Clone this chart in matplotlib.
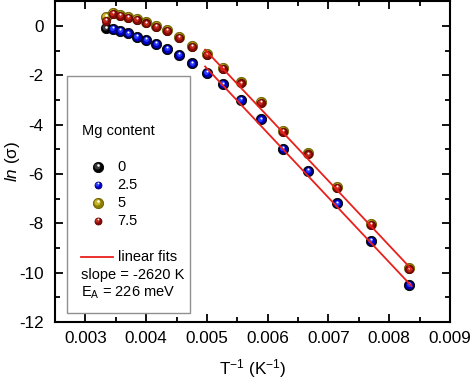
import matplotlib
matplotlib.use("Agg")
import matplotlib.pyplot as plt
import matplotlib.transforms as mtransforms
from matplotlib.patches import Rectangle
import numpy as np

plt.rcParams['font.family'] = ['Liberation Sans', 'DejaVu Sans']
plt.rcParams['mathtext.fontset'] = 'custom'
plt.rcParams['mathtext.rm'] = 'Liberation Sans'
plt.rcParams['mathtext.it'] = 'Liberation Sans:italic'
plt.rcParams['axes.unicode_minus'] = False

# ---- data ----
temps = [300, 290, 280, 270, 260, 250, 240, 230, 220, 210,
         200, 190, 180, 170, 160, 150, 140, 130, 120]
ln_sigma_0 = [-0.09, -0.12, -0.19, -0.30, -0.43, -0.57, -0.73, -0.93, -1.18, -1.51,
              -1.89, -2.36, -3.00, -3.78, -4.99, -5.87, -7.19, -8.72, -10.50]
ln_sigma_25 = [None, -0.12, -0.19, -0.30, -0.43, -0.57, -0.73, -0.93, -1.18, -1.51,
               -1.89, -2.36, -3.00, -3.78, -4.99, -5.87, -7.19, -8.72, -10.50]
ln_sigma_5 = [0.38, 0.53, 0.46, 0.38, 0.28, 0.15, 0.01, -0.16, -0.43, -0.80,
              -1.14, -1.70, -2.28, -3.07, -4.24, -5.16, -6.51, -8.03, -9.82]
ln_sigma_75 = [0.20, 0.49, 0.42, 0.34, 0.24, 0.11, -0.03, -0.20, -0.47, -0.84,
               -1.18, -1.74, -2.32, -3.11, -4.28, -5.20, -6.55, -8.07, -9.86]
fit_x = [0.00497, 0.00837]
fit_slope = -2620.0
fit_intercepts = [12.06, 11.38]
legend_labels = ['0', '2.5', '5', '7.5']
xtick_vals = [0.003, 0.004, 0.005, 0.006, 0.007, 0.008, 0.009]
xtick_labels = ['0.003', '0.004', '0.005', '0.006', '0.007', '0.008', '0.009']
ytick_vals = [0, -2, -4, -6, -8, -10, -12]
ytick_labels = ['0', '-2', '-4', '-6', '-8', '-10', '-12']

inv_t = [1.0 / t for t in temps]

fig = plt.figure(figsize=(4.74, 3.81), dpi=100)
ax = fig.add_axes([55/474, (381-322)/381, (450-55)/474, (322-1.3)/381])

# sphere-like markers
styles = {
    '0':   dict(base='#000000', edge='#000000', light='#3a3a3a', size=7.4),
    '2.5': dict(base='#0000c8', edge='#00005a', light='#2a3cff', size=5.9),
    '5':   dict(base='#8c7c00', edge='#6a5c00', light='#c8b42a', size=7.4),
    '7.5': dict(base='#8a0a0a', edge='#5a0000', light='#c42a1c', size=5.9),
}

def ball(x, y, st, transform=None, zorder=3):
    tr = ax.transData if transform is None else transform
    ax.plot(x, y, 'o', ls='none', ms=st['size'], mfc=st['base'], mec=st['edge'],
            mew=0.6, transform=tr, zorder=zorder, clip_on=False)
    off = mtransforms.ScaledTranslation(-0.4/72, 0.5/72, fig.dpi_scale_trans)
    ax.plot(x, y, 'o', ls='none', ms=st['size']*0.6, mfc=st['light'], mec='none',
            transform=tr + off, zorder=zorder + 0.1, clip_on=False)
    off2 = mtransforms.ScaledTranslation(0.0, 1.2/72, fig.dpi_scale_trans)
    ax.plot(x, y, 'o', ls='none', ms=st['size']*0.25, mfc='white', mec='none',
            transform=tr + off2, zorder=zorder + 0.2, clip_on=False)

def series(xs, ys):
    px = [a for a, b in zip(xs, ys) if b is not None]
    py = [b for b in ys if b is not None]
    return px, py

z = 3
for key, ys in zip(legend_labels, [ln_sigma_0, ln_sigma_25, ln_sigma_5, ln_sigma_75]):
    px, py = series(inv_t, ys)
    ball(px, py, styles[key], zorder=z)
    z += 1

# linear fits
for b in fit_intercepts:
    fy = [fit_slope * x + b for x in fit_x]
    ax.plot(fit_x, fy, color='#e8201c', lw=1.3, zorder=10)

ax.set_xlim(0.0025, 0.009)
ax.set_ylim(-12, 1)
ax.set_xticks(xtick_vals)
ax.set_xticklabels(xtick_labels)
ax.set_xticks(np.arange(0.0025, 0.00901, 0.0005), minor=True)
ax.set_yticks(ytick_vals)
ax.set_yticklabels(ytick_labels)
ax.set_yticks(np.arange(-12, 1.01, 1), minor=True)
ax.tick_params(which='both', direction='in', top=True, right=True, width=1.3)
ax.tick_params(which='major', length=6, labelsize=12.3)
ax.tick_params(which='minor', length=3.5)
ax.tick_params(axis='x', which='major', pad=6.5)
ax.tick_params(axis='y', which='major', pad=8.2)
for s in ax.spines.values():
    s.set_linewidth(1.5)

ax.set_xlabel(r"T$^{-1}$ (K$^{-1}$)", fontsize=12.3)
ax.set_ylabel(r"$\mathit{ln}$ (σ)", fontsize=12.3)
ax.xaxis.set_label_coords(0.5, (322 - 357) / 320.7)
ax.yaxis.set_label_coords((22 - 55) / 395, 0.5)

# legend box (manual)
ax.add_patch(Rectangle((0.031, 0.029), 0.311, 0.7386, transform=ax.transAxes,
                       facecolor='white', edgecolor='#909090', lw=1.0, zorder=20))
ax.text(0.0676, 0.596, 'Mg content', transform=ax.transAxes, fontsize=10.5,
        va='center', ha='left', zorder=21)
rows = [0.4846, 0.4275, 0.3713, 0.315]
for key, yy in zip(legend_labels, rows):
    st = dict(styles[key])
    st['size'] = st['size'] * (1.0 if key in ('0', '5') else 0.85)
    ball([0.108], [yy], st, transform=ax.transAxes, zorder=22)
    ax.text(0.1577, yy, key, transform=ax.transAxes, fontsize=10.5,
            va='center', ha='left', zorder=21)
ax.plot([0.065, 0.1476], [0.2037, 0.2037], transform=ax.transAxes,
        color='#e8201c', lw=1.3, zorder=21)
ax.text(0.160, 0.2037, 'linear fits', transform=ax.transAxes, fontsize=10.5,
        va='center', ha='left', zorder=21)
ax.text(0.0666, 0.1466, 'slope = -2620 K', transform=ax.transAxes, fontsize=10.5,
        va='center', ha='left', zorder=21)
ax.text(0.0666, 0.0905, r'E$_\mathregular{A}$ = 226 meV', transform=ax.transAxes,
        fontsize=10.5, va='center', ha='left', zorder=21)

fig.savefig('out.png', dpi=100)
